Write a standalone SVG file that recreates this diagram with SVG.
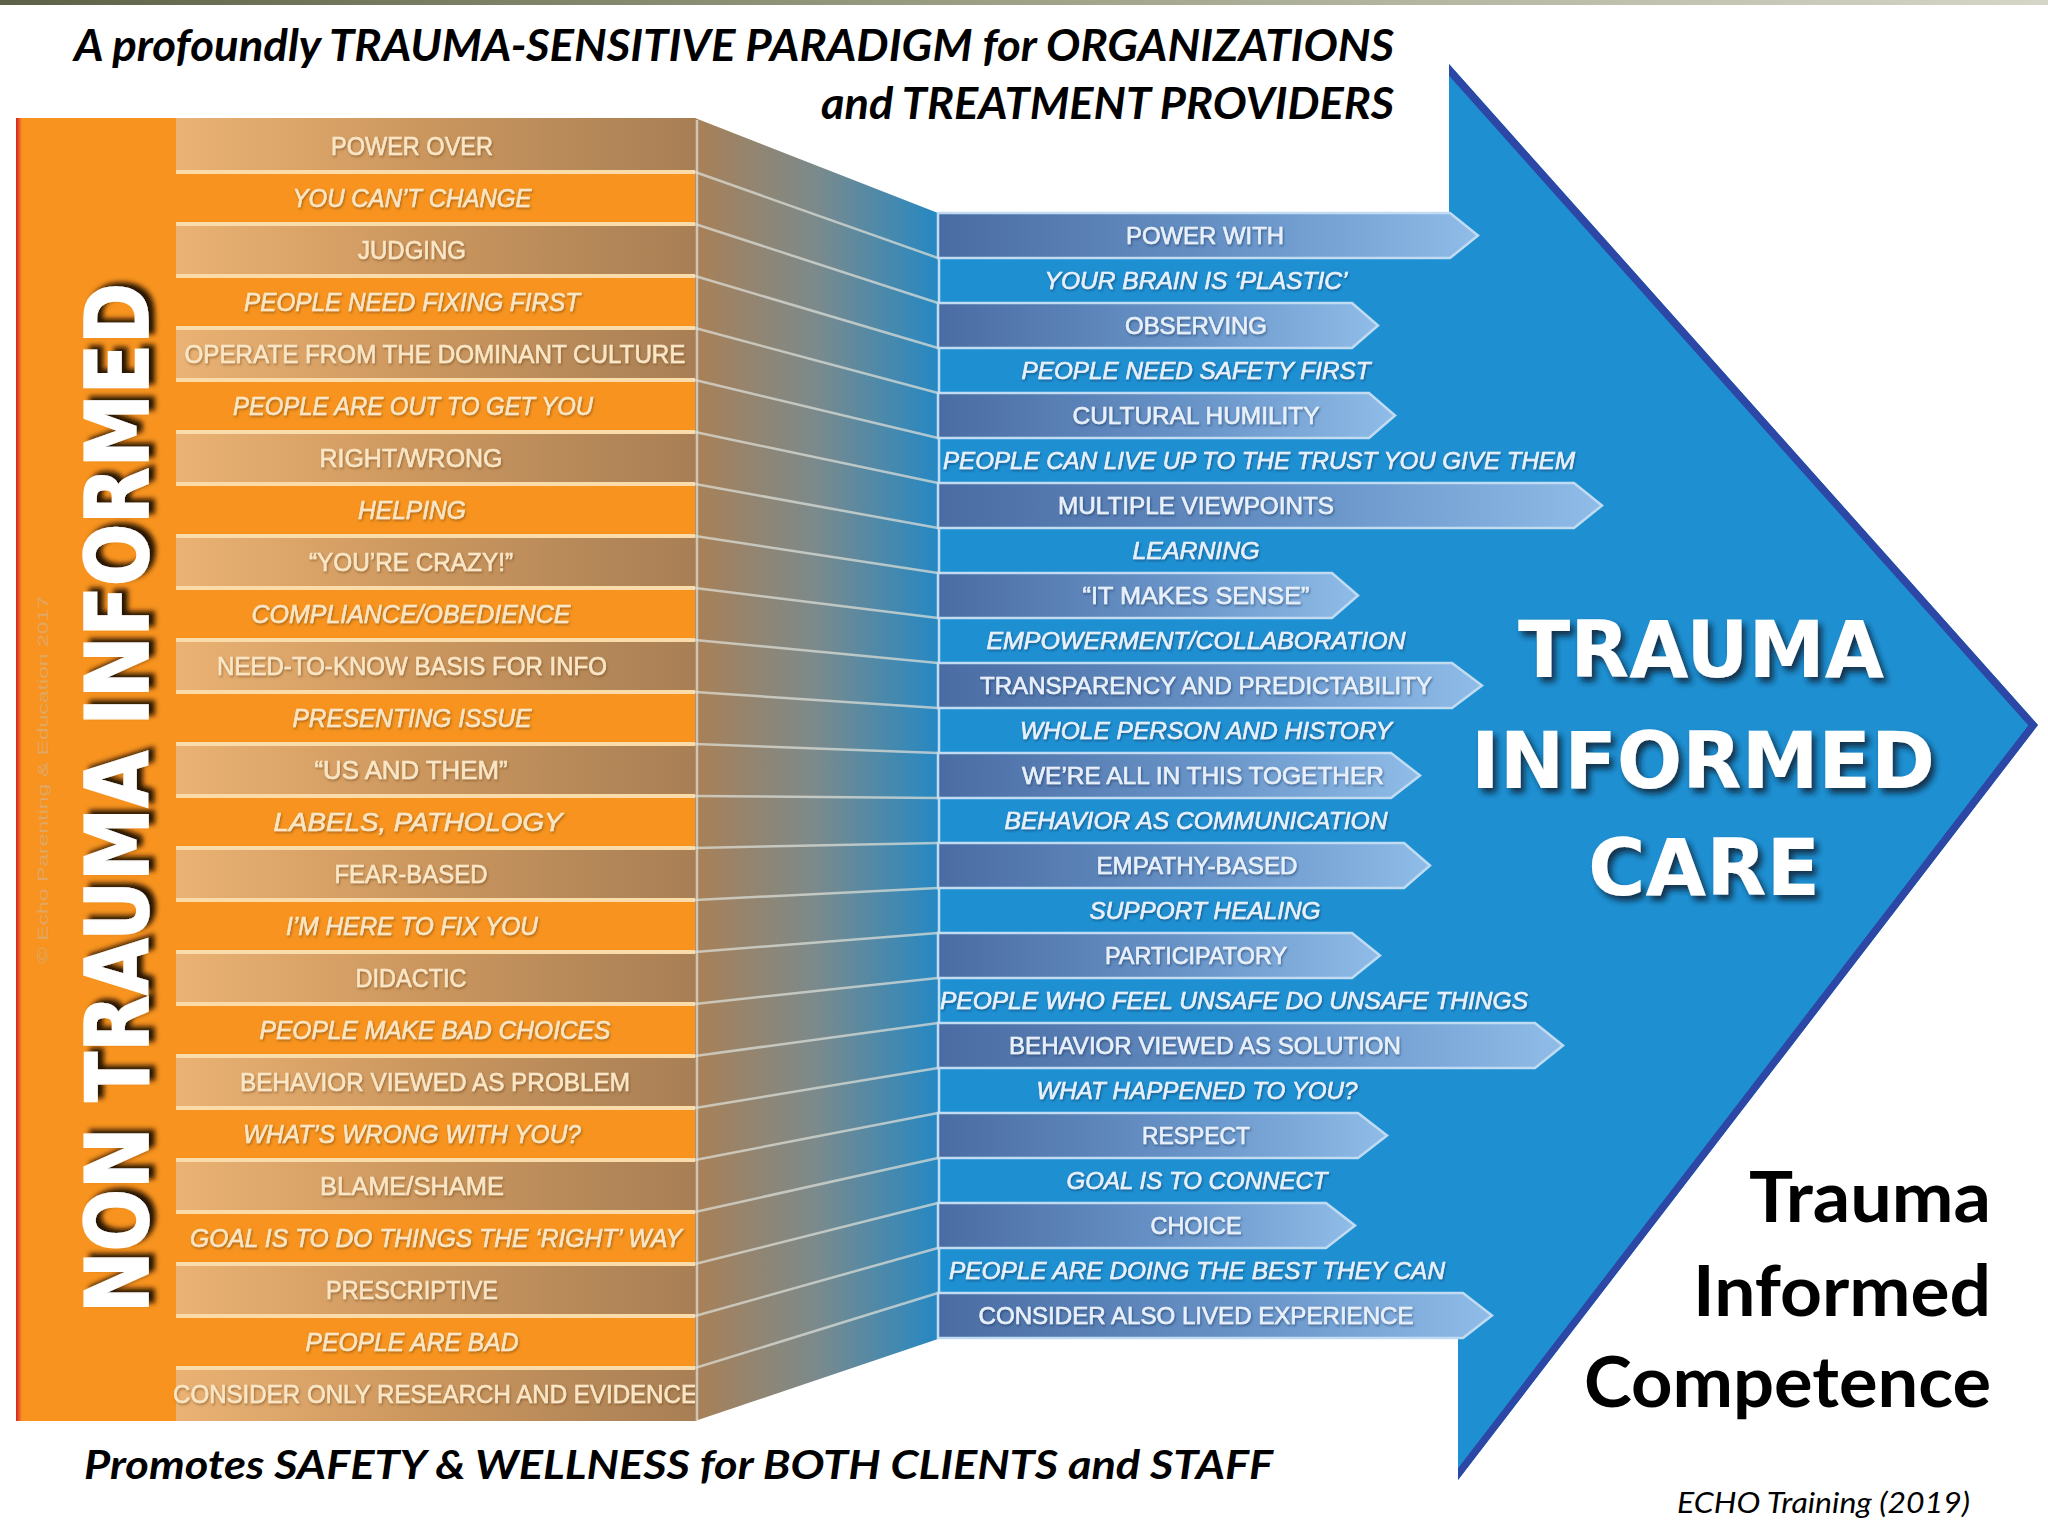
<svg xmlns="http://www.w3.org/2000/svg" width="2048" height="1536" viewBox="0 0 2048 1536">
<defs>
  <linearGradient id="topbar" x1="0" x2="1" y1="0" y2="0">
    <stop offset="0" stop-color="#5c6147"/><stop offset="0.5" stop-color="#9fa287"/><stop offset="1" stop-color="#d6d6c8"/>
  </linearGradient>
  <linearGradient id="tan" x1="0" x2="1" y1="0" y2="0">
    <stop offset="0" stop-color="#eab274"/><stop offset="0.45" stop-color="#cd985f"/><stop offset="1" stop-color="#a87f55"/>
  </linearGradient>
  <linearGradient id="red" x1="0" x2="1" y1="0" y2="0">
    <stop offset="0" stop-color="#d61f2c"/><stop offset="1" stop-color="#f7931e"/>
  </linearGradient>
  <linearGradient id="trap" gradientUnits="userSpaceOnUse" x1="695" y1="0" x2="938" y2="0">
    <stop offset="0" stop-color="#a98056"/><stop offset="0.5" stop-color="#7b8a8c"/><stop offset="1" stop-color="#2588c3"/>
  </linearGradient>
  <linearGradient id="steel" x1="0" x2="1" y1="0" y2="0">
    <stop offset="0" stop-color="#4a6ca3"/><stop offset="0.6" stop-color="#6b97cb"/><stop offset="1" stop-color="#90bce8"/>
  </linearGradient>
  <clipPath id="arrowClip">
    <polygon points="938,213 1449,213 1449,64 2038,725 1458,1480 1458,1339 938,1339"/>
  </clipPath>
  <filter id="shL" x="-10%" y="-50%" width="120%" height="200%">
    <feDropShadow dx="1" dy="1.5" stdDeviation="1" flood-color="#6a4010" flood-opacity="0.55"/>
  </filter>
  <filter id="shR" x="-10%" y="-50%" width="120%" height="200%">
    <feDropShadow dx="1" dy="1.5" stdDeviation="1" flood-color="#0f2f55" flood-opacity="0.55"/>
  </filter>
  <filter id="shBig" x="-20%" y="-20%" width="140%" height="140%">
    <feDropShadow dx="6" dy="-4" stdDeviation="2.5" flood-color="#1a0a00" flood-opacity="0.95"/>
  </filter>
  <filter id="shTIC" x="-20%" y="-30%" width="140%" height="160%">
    <feDropShadow dx="4" dy="5" stdDeviation="3" flood-color="#0a1a30" flood-opacity="0.85"/>
  </filter>
</defs>
<style>
  .ll{font-family:"Liberation Sans",Arial,sans-serif;font-size:25px;fill:#fae6c4;stroke:#fae6c4;stroke-width:0.6px;text-anchor:middle;filter:url(#shL)}
  .rl{font-family:"Liberation Sans",Arial,sans-serif;font-size:24px;fill:#e8f1fb;stroke:#e8f1fb;stroke-width:0.6px;text-anchor:middle;filter:url(#shR)}
  .it{font-style:italic}
  .sep{stroke:#f9dcaa;stroke-width:4}
  .tan{fill:url(#tan)}
  .arr{fill:url(#steel);stroke:#c0dbf2;stroke-width:2.5}
  .cn{stroke:#d9dcd6;stroke-width:2.5;stroke-opacity:0.75;fill:none}
  .ttl{font-family:Lato,"Open Sans","Liberation Sans",sans-serif;font-weight:bold;font-style:italic;fill:#000}
  .tic{font-family:"DejaVu Sans","Liberation Sans",sans-serif;font-weight:bold;font-size:78px;fill:#fff;text-anchor:middle}
  .tc{font-family:Lato,"Open Sans","Liberation Sans",sans-serif;font-weight:bold;font-size:70px;fill:#000;text-anchor:end}
</style>

<rect width="2048" height="1536" fill="#ffffff"/>
<rect x="0" y="0" width="2048" height="5" fill="url(#topbar)"/>

<!-- Titles -->
<g id="title">
  <text class="ttl" x="1394" y="61" font-size="44" text-anchor="end" textLength="1320" lengthAdjust="spacingAndGlyphs">A profoundly TRAUMA-SENSITIVE PARADIGM for ORGANIZATIONS</text>
  <text class="ttl" x="1394" y="119" font-size="44" text-anchor="end" textLength="573" lengthAdjust="spacingAndGlyphs">and TREATMENT PROVIDERS</text>
</g>

<!-- Left panel -->
<g id="non-trauma-panel">
  <rect x="16" y="118" width="679" height="1303" fill="#f7931e"/>
  <rect x="16" y="118" width="6" height="1303" fill="url(#red)"/>
  <rect class="tan" x="176" y="118" width="519" height="54"/>
  <rect class="tan" x="176" y="224" width="519" height="52"/>
  <rect class="tan" x="176" y="328" width="519" height="52"/>
  <rect class="tan" x="176" y="432" width="519" height="52"/>
  <rect class="tan" x="176" y="536" width="519" height="52"/>
  <rect class="tan" x="176" y="640" width="519" height="52"/>
  <rect class="tan" x="176" y="744" width="519" height="52"/>
  <rect class="tan" x="176" y="848" width="519" height="52"/>
  <rect class="tan" x="176" y="952" width="519" height="52"/>
  <rect class="tan" x="176" y="1056" width="519" height="52"/>
  <rect class="tan" x="176" y="1160" width="519" height="52"/>
  <rect class="tan" x="176" y="1264" width="519" height="52"/>
  <rect class="tan" x="176" y="1368" width="519" height="53"/>
  <g>
    <line class="sep" x1="176" x2="695" y1="172" y2="172"/>
    <line class="sep" x1="176" x2="695" y1="224" y2="224"/>
    <line class="sep" x1="176" x2="695" y1="276" y2="276"/>
    <line class="sep" x1="176" x2="695" y1="328" y2="328"/>
    <line class="sep" x1="176" x2="695" y1="380" y2="380"/>
    <line class="sep" x1="176" x2="695" y1="432" y2="432"/>
    <line class="sep" x1="176" x2="695" y1="484" y2="484"/>
    <line class="sep" x1="176" x2="695" y1="536" y2="536"/>
    <line class="sep" x1="176" x2="695" y1="588" y2="588"/>
    <line class="sep" x1="176" x2="695" y1="640" y2="640"/>
    <line class="sep" x1="176" x2="695" y1="692" y2="692"/>
    <line class="sep" x1="176" x2="695" y1="744" y2="744"/>
    <line class="sep" x1="176" x2="695" y1="796" y2="796"/>
    <line class="sep" x1="176" x2="695" y1="848" y2="848"/>
    <line class="sep" x1="176" x2="695" y1="900" y2="900"/>
    <line class="sep" x1="176" x2="695" y1="952" y2="952"/>
    <line class="sep" x1="176" x2="695" y1="1004" y2="1004"/>
    <line class="sep" x1="176" x2="695" y1="1056" y2="1056"/>
    <line class="sep" x1="176" x2="695" y1="1108" y2="1108"/>
    <line class="sep" x1="176" x2="695" y1="1160" y2="1160"/>
    <line class="sep" x1="176" x2="695" y1="1212" y2="1212"/>
    <line class="sep" x1="176" x2="695" y1="1264" y2="1264"/>
    <line class="sep" x1="176" x2="695" y1="1316" y2="1316"/>
    <line class="sep" x1="176" x2="695" y1="1368" y2="1368"/>
  </g>
  <text x="48" y="964" transform="rotate(-90 48 964)" font-family="Liberation Sans, Arial, sans-serif" font-size="15" fill="#e2a764" textLength="368" lengthAdjust="spacingAndGlyphs">© Echo Parenting &amp; Education 2017</text>
  <g id="non-trauma-title" filter="url(#shBig)">
    <text transform="translate(148,1313) rotate(-90)" x="0" y="0" font-family="DejaVu Sans, Liberation Sans, sans-serif" font-weight="bold" font-size="88" fill="#ffffff" stroke="#ffffff" stroke-width="1.5" textLength="1030" lengthAdjust="spacingAndGlyphs">NON TRAUMA INFORMED</text>
  </g>
</g>

<!-- Left labels -->
<g id="left-items">
  <g id="l1"><text class="ll" x="412" y="155" textLength="162" lengthAdjust="spacingAndGlyphs">POWER OVER</text></g>
  <g id="l2"><text class="ll it" x="412" y="207" textLength="239" lengthAdjust="spacingAndGlyphs">YOU CAN’T CHANGE</text></g>
  <g id="l3"><text class="ll" x="412" y="259" textLength="108" lengthAdjust="spacingAndGlyphs">JUDGING</text></g>
  <g id="l4"><text class="ll it" x="412" y="311" textLength="336" lengthAdjust="spacingAndGlyphs">PEOPLE NEED FIXING FIRST</text></g>
  <g id="l5"><text class="ll" x="435" y="363" textLength="501" lengthAdjust="spacingAndGlyphs">OPERATE FROM THE DOMINANT CULTURE</text></g>
  <g id="l6"><text class="ll it" x="413" y="415" textLength="360" lengthAdjust="spacingAndGlyphs">PEOPLE ARE OUT TO GET YOU</text></g>
  <g id="l7"><text class="ll" x="411" y="467" textLength="183" lengthAdjust="spacingAndGlyphs">RIGHT/WRONG</text></g>
  <g id="l8"><text class="ll it" x="412" y="519" textLength="108" lengthAdjust="spacingAndGlyphs">HELPING</text></g>
  <g id="l9"><text class="ll" x="411" y="571" textLength="204" lengthAdjust="spacingAndGlyphs">“YOU’RE CRAZY!”</text></g>
  <g id="l10"><text class="ll it" x="411" y="623" textLength="319" lengthAdjust="spacingAndGlyphs">COMPLIANCE/OBEDIENCE</text></g>
  <g id="l11"><text class="ll" x="412" y="675" textLength="390" lengthAdjust="spacingAndGlyphs">NEED-TO-KNOW BASIS FOR INFO</text></g>
  <g id="l12"><text class="ll it" x="412" y="727" textLength="239" lengthAdjust="spacingAndGlyphs">PRESENTING ISSUE</text></g>
  <g id="l13"><text class="ll" x="411" y="779" textLength="193" lengthAdjust="spacingAndGlyphs">“US AND THEM”</text></g>
  <g id="l14"><text class="ll it" x="418" y="831" textLength="289" lengthAdjust="spacingAndGlyphs">LABELS, PATHOLOGY</text></g>
  <g id="l15"><text class="ll" x="411" y="883" textLength="153" lengthAdjust="spacingAndGlyphs">FEAR-BASED</text></g>
  <g id="l16"><text class="ll it" x="412" y="935" textLength="252" lengthAdjust="spacingAndGlyphs">I’M HERE TO FIX YOU</text></g>
  <g id="l17"><text class="ll" x="411" y="987" textLength="111" lengthAdjust="spacingAndGlyphs">DIDACTIC</text></g>
  <g id="l18"><text class="ll it" x="435" y="1039" textLength="351" lengthAdjust="spacingAndGlyphs">PEOPLE MAKE BAD CHOICES</text></g>
  <g id="l19"><text class="ll" x="435" y="1091" textLength="390" lengthAdjust="spacingAndGlyphs">BEHAVIOR VIEWED AS PROBLEM</text></g>
  <g id="l20"><text class="ll it" x="412" y="1143" textLength="338" lengthAdjust="spacingAndGlyphs">WHAT’S WRONG WITH YOU?</text></g>
  <g id="l21"><text class="ll" x="412" y="1195" textLength="184" lengthAdjust="spacingAndGlyphs">BLAME/SHAME</text></g>
  <g id="l22"><text class="ll it" x="436" y="1247" textLength="492" lengthAdjust="spacingAndGlyphs">GOAL IS TO DO THINGS THE ‘RIGHT’ WAY</text></g>
  <g id="l23"><text class="ll" x="412" y="1299" textLength="172" lengthAdjust="spacingAndGlyphs">PRESCRIPTIVE</text></g>
  <g id="l24"><text class="ll it" x="412" y="1351" textLength="213" lengthAdjust="spacingAndGlyphs">PEOPLE ARE BAD</text></g>
  <g id="l25"><text class="ll" x="435" y="1403" textLength="524" lengthAdjust="spacingAndGlyphs">CONSIDER ONLY RESEARCH AND EVIDENCE</text></g>
</g>

<!-- Transition -->
<g id="transition">
  <polygon points="695,118 938,213 938,1339 695,1421" fill="url(#trap)"/>
</g>

<!-- Connectors between rows -->
<g id="connectors">
  <line class="cn" x1="697" y1="120" x2="697" y2="1420"/>
  <line class="cn" x1="695" y1="172" x2="938" y2="258"/>
  <line class="cn" x1="695" y1="224" x2="938" y2="303"/>
  <line class="cn" x1="695" y1="276" x2="938" y2="348"/>
  <line class="cn" x1="695" y1="328" x2="938" y2="393"/>
  <line class="cn" x1="695" y1="380" x2="938" y2="438"/>
  <line class="cn" x1="695" y1="432" x2="938" y2="483"/>
  <line class="cn" x1="695" y1="484" x2="938" y2="528"/>
  <line class="cn" x1="695" y1="536" x2="938" y2="573"/>
  <line class="cn" x1="695" y1="588" x2="938" y2="618"/>
  <line class="cn" x1="695" y1="640" x2="938" y2="663"/>
  <line class="cn" x1="695" y1="692" x2="938" y2="708"/>
  <line class="cn" x1="695" y1="744" x2="938" y2="753"/>
  <line class="cn" x1="695" y1="796" x2="938" y2="798"/>
  <line class="cn" x1="695" y1="848" x2="938" y2="843"/>
  <line class="cn" x1="695" y1="900" x2="938" y2="888"/>
  <line class="cn" x1="695" y1="952" x2="938" y2="933"/>
  <line class="cn" x1="695" y1="1004" x2="938" y2="978"/>
  <line class="cn" x1="695" y1="1056" x2="938" y2="1023"/>
  <line class="cn" x1="695" y1="1108" x2="938" y2="1068"/>
  <line class="cn" x1="695" y1="1160" x2="938" y2="1113"/>
  <line class="cn" x1="695" y1="1212" x2="938" y2="1158"/>
  <line class="cn" x1="695" y1="1264" x2="938" y2="1203"/>
  <line class="cn" x1="695" y1="1316" x2="938" y2="1248"/>
  <line class="cn" x1="695" y1="1368" x2="938" y2="1293"/>
</g>

<!-- Big arrow -->
<g id="big-arrow">
  <polygon points="938,213 1449,213 1449,64 2038,725 1458,1480 1458,1339 938,1339" fill="#1e90d2"/>
  <polyline points="1429,42 2038,725 1440,1504" fill="none" stroke="#2c47a6" stroke-width="15" clip-path="url(#arrowClip)"/>
  <line x1="939" y1="213" x2="939" y2="1339" stroke="#c0dbf2" stroke-width="2.5"/>
</g>

<!-- Right items -->
<g id="right-items">
  <g id="r1"><polygon class="arr" points="938,213 1450,213 1478,235.5 1450,258 938,258"/><text class="rl" x="1205" y="244" textLength="158" lengthAdjust="spacingAndGlyphs">POWER WITH</text></g>
  <g id="r2"><text class="rl it" x="1196" y="289" textLength="303" lengthAdjust="spacingAndGlyphs">YOUR BRAIN IS ‘PLASTIC’</text></g>
  <g id="r3"><polygon class="arr" points="938,303 1352,303 1378,325.5 1352,348 938,348"/><text class="rl" x="1196" y="334" textLength="142" lengthAdjust="spacingAndGlyphs">OBSERVING</text></g>
  <g id="r4"><text class="rl it" x="1196" y="379" textLength="349" lengthAdjust="spacingAndGlyphs">PEOPLE NEED SAFETY FIRST</text></g>
  <g id="r5"><polygon class="arr" points="938,393 1369,393 1395,415.5 1369,438 938,438"/><text class="rl" x="1196" y="424" textLength="247" lengthAdjust="spacingAndGlyphs">CULTURAL HUMILITY</text></g>
  <g id="r6"><text class="rl it" x="1259" y="469" textLength="632" lengthAdjust="spacingAndGlyphs">PEOPLE CAN LIVE UP TO THE TRUST YOU GIVE THEM</text></g>
  <g id="r7"><polygon class="arr" points="938,483 1574,483 1602,505.5 1574,528 938,528"/><text class="rl" x="1196" y="514" textLength="276" lengthAdjust="spacingAndGlyphs">MULTIPLE VIEWPOINTS</text></g>
  <g id="r8"><text class="rl it" x="1196" y="559" textLength="127" lengthAdjust="spacingAndGlyphs">LEARNING</text></g>
  <g id="r9"><polygon class="arr" points="938,573 1332,573 1358,595.5 1332,618 938,618"/><text class="rl" x="1196" y="604" textLength="227" lengthAdjust="spacingAndGlyphs">“IT MAKES SENSE”</text></g>
  <g id="r10"><text class="rl it" x="1196" y="649" textLength="419" lengthAdjust="spacingAndGlyphs">EMPOWERMENT/COLLABORATION</text></g>
  <g id="r11"><polygon class="arr" points="938,663 1452,663 1482,685.5 1452,708 938,708"/><text class="rl" x="1206" y="694" textLength="452" lengthAdjust="spacingAndGlyphs">TRANSPARENCY AND PREDICTABILITY</text></g>
  <g id="r12"><text class="rl it" x="1206" y="739" textLength="372" lengthAdjust="spacingAndGlyphs">WHOLE PERSON AND HISTORY</text></g>
  <g id="r13"><polygon class="arr" points="938,753 1391,753 1420,775.5 1391,798 938,798"/><text class="rl" x="1203" y="784" textLength="362" lengthAdjust="spacingAndGlyphs">WE’RE ALL IN THIS TOGETHER</text></g>
  <g id="r14"><text class="rl it" x="1196" y="829" textLength="383" lengthAdjust="spacingAndGlyphs">BEHAVIOR AS COMMUNICATION</text></g>
  <g id="r15"><polygon class="arr" points="938,843 1404,843 1430,865.5 1404,888 938,888"/><text class="rl" x="1197" y="874" textLength="201" lengthAdjust="spacingAndGlyphs">EMPATHY-BASED</text></g>
  <g id="r16"><text class="rl it" x="1205" y="919" textLength="231" lengthAdjust="spacingAndGlyphs">SUPPORT HEALING</text></g>
  <g id="r17"><polygon class="arr" points="938,933 1352,933 1380,955.5 1352,978 938,978"/><text class="rl" x="1196" y="964" textLength="182" lengthAdjust="spacingAndGlyphs">PARTICIPATORY</text></g>
  <g id="r18"><text class="rl it" x="1234" y="1009" textLength="588" lengthAdjust="spacingAndGlyphs">PEOPLE WHO FEEL UNSAFE DO UNSAFE THINGS</text></g>
  <g id="r19"><polygon class="arr" points="938,1023 1535,1023 1563,1045.5 1535,1068 938,1068"/><text class="rl" x="1205" y="1054" textLength="392" lengthAdjust="spacingAndGlyphs">BEHAVIOR VIEWED AS SOLUTION</text></g>
  <g id="r20"><text class="rl it" x="1197" y="1099" textLength="321" lengthAdjust="spacingAndGlyphs">WHAT HAPPENED TO YOU?</text></g>
  <g id="r21"><polygon class="arr" points="938,1113 1358,1113 1387,1135.5 1358,1158 938,1158"/><text class="rl" x="1196" y="1144" textLength="108" lengthAdjust="spacingAndGlyphs">RESPECT</text></g>
  <g id="r22"><text class="rl it" x="1197" y="1189" textLength="261" lengthAdjust="spacingAndGlyphs">GOAL IS TO CONNECT</text></g>
  <g id="r23"><polygon class="arr" points="938,1203 1326,1203 1355,1225.5 1326,1248 938,1248"/><text class="rl" x="1196" y="1234" textLength="91" lengthAdjust="spacingAndGlyphs">CHOICE</text></g>
  <g id="r24"><text class="rl it" x="1197" y="1279" textLength="496" lengthAdjust="spacingAndGlyphs">PEOPLE ARE DOING THE BEST THEY CAN</text></g>
  <g id="r25"><polygon class="arr" points="938,1293 1463,1293 1492,1315.5 1463,1338 938,1338"/><text class="rl" x="1196" y="1324" textLength="435" lengthAdjust="spacingAndGlyphs">CONSIDER ALSO LIVED EXPERIENCE</text></g>
</g>

<g id="tic-title" filter="url(#shTIC)">
  <text class="tic" x="1701" y="677" textLength="366" lengthAdjust="spacingAndGlyphs">TRAUMA</text>
  <text class="tic" x="1703" y="788" textLength="464" lengthAdjust="spacingAndGlyphs">INFORMED</text>
  <text class="tic" x="1704" y="895" textLength="232" lengthAdjust="spacingAndGlyphs">CARE</text>
</g>

<g id="competence">
  <text class="tc" x="1991" y="1222" textLength="242" lengthAdjust="spacingAndGlyphs">Trauma</text>
  <text class="tc" x="1991" y="1316" textLength="298" lengthAdjust="spacingAndGlyphs">Informed</text>
  <text class="tc" x="1991" y="1407" textLength="407" lengthAdjust="spacingAndGlyphs">Competence</text>
</g>

<g id="footer">
  <text class="ttl" x="84" y="1479" font-size="41" textLength="1189" lengthAdjust="spacingAndGlyphs">Promotes SAFETY &amp; WELLNESS for BOTH CLIENTS and STAFF</text>
  <text x="1970" y="1513" font-family="Lato, Open Sans, Liberation Sans, sans-serif" font-style="italic" font-size="29" text-anchor="end" fill="#000" textLength="293" lengthAdjust="spacingAndGlyphs">ECHO Training (2019)</text>
</g>
</svg>
